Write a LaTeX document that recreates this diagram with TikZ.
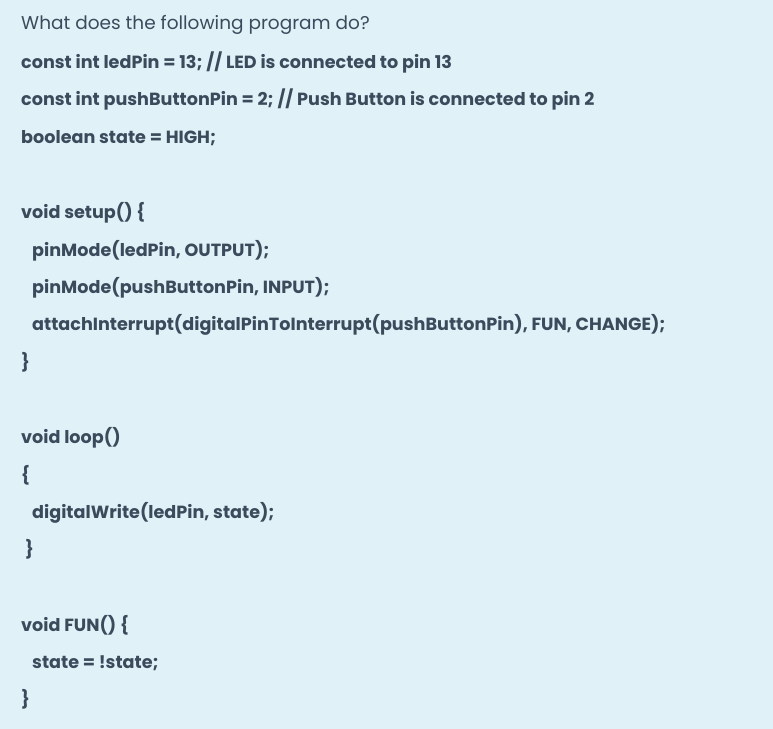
\documentclass[tikz,border=0pt]{standalone}
\usepackage{fontspec}
\setmainfont{Poppins}
\definecolor{panelbg}{HTML}{E0F1F8}
\definecolor{codetext}{HTML}{3C4B5C}
\begin{document}
\begin{tikzpicture}[x=1pt,y=-1pt,
					every node/.style={%
						anchor=base west,
						inner sep=0pt,
						text=codetext,
						font=\fontsize{18.5}{20}\selectfont
					},
					code/.style={font=\fontsize{17.6}{20}\selectfont\bfseries}
				]

				\useasboundingbox (0,0) rectangle (773,728);
				\fill[panelbg] (-1,-1) rectangle (774,729);

				\node (question) at (21, 29) {What does the following program do?};
				\node[code] (ledpin) at (21, 68) {const int ledPin = 13; // LED is connected to pin 13};
				\node[code] (btnpin) at (21, 105) {const int pushButtonPin = 2; // Push Button is connected to pin 2};
				\node[code] (state) at (21, 143) {boolean state = HIGH;};

				% setup
				\node[code] (setup) at (21, 218) {void setup() \{};
				\node[code] (mode1) at (32, 256) {pinMode(ledPin, OUTPUT);};
				\node[code] (mode2) at (32, 293) {pinMode(pushButtonPin, INPUT);};
				\node[code] (attach) at (32, 330) {attachInterrupt(digitalPinToInterrupt(pushButtonPin), FUN, CHANGE);};
				\node[code] (setupend) at (21, 368) {\}};

				% loop
				\node[code] (loop) at (21, 443) {void loop()};
				\node[code] (loopbegin) at (21, 481) {\{};
				\node[code] (write) at (32, 518) {digitalWrite(ledPin, state);};
				\node[code] (loopend) at (25, 555) {\}};

				% FUN
				\node[code] (fun) at (21, 631) {void FUN() \{};
				\node[code] (toggle) at (32, 668) {state = !state;};
				\node[code] (funend) at (21, 705) {\}};
			\end{tikzpicture}
\end{document}
